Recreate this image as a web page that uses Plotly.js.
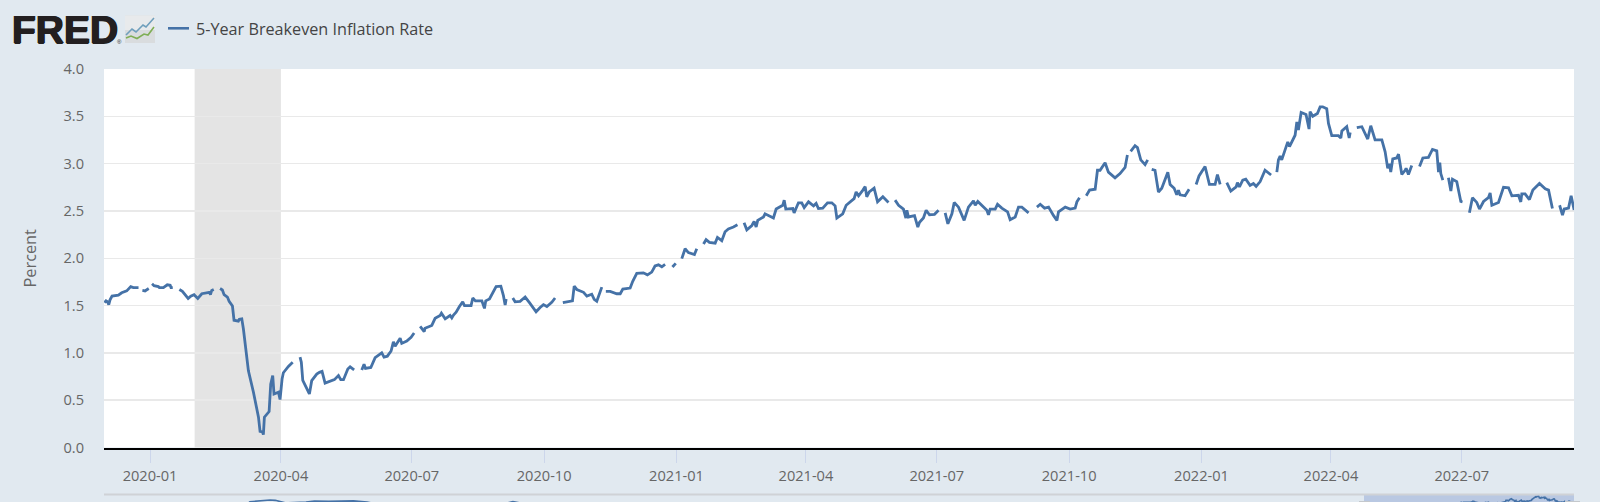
<!DOCTYPE html>
<html><head><meta charset="utf-8">
<script src="https://cdn.plot.ly/plotly-3.0.1.min.js"></script>
<style>html,body{margin:0;padding:0;background:#e1e9f0;overflow:hidden}#c{width:1600px;height:502px}</style>
</head><body><div id="c"></div>
<script>
const SERIES_NAME = "5-Year Breakeven Inflation Rate";
const Y_TITLE = "Percent";
const BASE_DATE = "2020-01-01";
const RANGE_START = -32, RANGE_END = 990;
const RECESSION = ["2020-02-01", "2020-04-01"];
const Y_TICKS = [0, 0.5, 1, 1.5, 2, 2.5, 3, 3.5, 4];

// Days since BASE_DATE and the rate read at that day; null marks a gap in the published series.
const days = [
-31.7,-30.6,-29.6,-28.7,-27.8,-26.4,-22,-19.7,-16.2,-13.4,-11.6,-8,-6.6,
-5.3,-3.5,-0.9,0.2,
1.4,2.8,5.8,6.5,9.3,12,14,14.6,15.8,18,
20.4,22.5,26.5,28.3,30.6,33.2,36,41.3,42,42.9,44.3,46.5,
48.7,50.3,51.5,53.8,55,57.3,58.4,61.4,62.1,63.8,64.9,66.5,68.4,71.9,75.4,76.5,78.1,78.8,79.5,82.8,83.9,85.3,86.2,89.3,90.4,91.8,92.7,96.2,99.2,101.5,
104.3,105.2,106.2,110.8,112.4,115.9,117.8,119.6,121.7,125.2,128.2,131,132.6,134.5,137.5,139.1,141.9,144.5,
147.2,148.8,149.8,153.5,156.5,161.1,162.7,165,167.6,169.2,170.4,173.9,175,178.5,181.5,183.6,185.7,
187.8,190.6,191.2,195.9,198.2,201.7,202.6,205.2,208.6,209.8,211,212.8,215.1,217.4,218.6,221.4,223.2,224.4,226.2,230.7,232.5,233.4,236,240.6,243.9,245.7,246.9,247.6,250,
252.2,253.8,257.3,260.8,263.8,268.4,271.2,273.5,275.9,279.3,281.6,284.3,
287,292,293.7,294.9,296.7,301.4,303.7,307.1,308.8,310.6,314.1,315.5,
316.9,319.9,324.5,326.9,328.7,333.8,335.6,338.4,343,345.8,348.8,351.1,353.5,355.8,358.1,360.6,
363.2,365.5,367.6,
369.7,372,374.3,378.5,380.1,382.4,
384.8,386.6,388.9,392.9,394.5,397.5,399.8,402.1,405.6,408.4,410.7,
413,414.9,418.4,420,421.4,422.5,426.5,427.6,433.4,435.3,439.9,440.9,442,446.9,447.8,450.8,453.1,454.8,457.8,461.3,463.1,464.7,467.7,471,474,476.3,477.5,481.6,484,486.8,489.5,490.9,492.6,495.6,497.2,498.3,500,503.4,505.8,509.5,513.4,515.7,
518,520.4,523.8,525.5,526.2,527.3,531.5,533.8,535,537.7,539.6,541.9,545.4,548.2,550.5,
552.8,554.7,557.5,559.1,562.1,566,569,572.5,573.7,575.5,581.8,582.9,584.1,587.6,589.2,592.2,596.2,598,601.5,603.8,606.1,610.8,613.7,
616.6,618.9,621.9,624.7,628.2,630.5,631.6,636.3,639.7,643.2,644.4,646.2,648.5,
650.9,653.2,657.1,658.7,660.5,664,666.3,670.9,674.4,677.9,679.5,680.6,
681.8,684.8,686.5,688.8,691.8,693.6,695,
696.4,698.7,701.1,703.4,707.6,709.2,712,713.8,715,716.1,719.6,722.4,724.8,
727.3,729.3,733.5,736.5,740.5,742.1,744,746.3,
748.6,751.4,755.1,756,757.4,759.7,761.8,764.8,767.1,769,771.8,775.2,779.4,781.4,
783.4,784.5,785.7,786.8,791,792.2,796.1,797.3,798.4,800.3,803.7,805.8,806.5,808.4,811.6,813.5,815.3,818.1,819.3,821.6,826.2,827.9,828.6,832,833.7,834.4,836.7,
839,842.5,846.6,848.7,851.7,856.4,858.7,860.5,861.7,862.6,864,866.8,868,870.3,872.6,873.3,874.9,877.2,879.9,
882.6,884.9,888.8,891.6,894.6,895.8,896.7,897.4,898.8,900.7,
902.7,904.4,905.5,908.5,911.3,912.5,914.9,
917.3,919.4,922.4,924.3,927.1,930.5,931.7,932.9,937.5,941,944.5,946.8,951.4,953,953.7,956,959,961.4,966,970,972.3,975,977.5,
980,982,983.2,986.2,988,990.1
];
const rates = [
1.53,1.55,1.54,1.51,1.56,1.60,1.61,1.635,1.655,1.70,1.69,1.69,null,
1.66,1.655,1.68,null,
1.73,1.71,1.70,1.69,1.69,1.72,1.715,1.69,1.69,null,
1.67,1.65,1.575,1.60,1.615,1.575,1.625,1.64,1.615,1.66,1.67,null,
1.68,1.665,1.615,1.59,1.545,1.495,1.345,1.335,1.355,1.36,1.255,1.04,0.81,0.584,0.32,0.17,0.165,0.136,0.32,0.38,0.67,0.76,0.566,0.584,0.507,0.724,0.79,0.857,0.90,null,
0.955,0.90,0.71,0.566,0.706,0.776,0.794,0.804,0.68,0.696,0.717,0.76,0.717,0.717,0.83,0.853,0.82,null,
0.82,0.88,0.835,0.846,0.95,1.0,0.955,0.965,1.02,1.117,1.07,1.155,1.10,1.125,1.165,1.21,null,
1.28,1.225,1.26,1.29,1.365,1.395,1.42,1.36,1.395,1.37,1.40,1.43,1.49,1.54,1.50,1.50,1.50,1.58,1.55,1.55,1.47,1.55,1.57,1.70,1.705,1.605,1.507,1.57,null,
1.58,1.54,1.545,1.59,1.53,1.435,1.48,1.51,1.49,1.535,1.58,null,
1.53,1.54,1.55,1.705,1.67,1.64,1.60,1.62,1.565,1.545,1.695,null,
1.65,1.65,1.625,1.625,1.675,1.685,1.757,1.84,1.846,1.825,1.854,1.918,1.93,1.91,1.936,null,
1.907,1.946,null,
1.996,2.10,2.06,2.04,2.10,null,
2.15,2.196,2.168,2.16,2.22,2.186,2.28,2.31,2.33,2.354,null,
2.375,2.30,2.346,2.39,2.33,2.40,2.436,2.47,2.425,2.52,2.56,2.614,2.52,2.525,2.48,2.586,2.586,2.536,2.596,2.554,2.58,2.525,2.53,2.586,2.586,2.554,2.425,2.47,2.56,2.596,2.63,2.70,2.66,2.72,2.757,2.65,2.70,2.74,2.596,2.65,2.59,null,
2.614,2.56,2.52,2.425,2.507,2.436,2.45,2.33,2.38,2.425,2.507,2.46,2.464,2.507,null,
2.48,2.364,2.47,2.59,2.54,2.40,2.54,2.607,2.56,2.60,2.507,2.46,2.52,2.52,2.57,2.53,2.49,2.407,2.436,2.54,2.54,2.48,null,
2.54,2.57,2.53,2.54,2.45,2.40,2.49,2.54,2.52,2.53,2.596,2.64,null,
2.66,2.72,2.73,2.93,2.93,3.01,2.91,2.85,2.895,2.96,3.09,null,
3.13,3.19,3.17,3.04,2.99,3.04,null,
2.94,2.93,2.70,2.74,2.91,2.78,2.74,2.67,2.72,2.67,2.66,2.73,null,
2.78,2.87,2.97,2.78,2.78,2.885,2.78,null,
2.80,2.71,2.755,2.80,2.755,2.825,2.835,2.77,2.79,2.76,2.81,2.93,2.88,null,
2.91,3.04,3.08,3.04,3.23,3.18,3.30,3.44,3.355,3.54,3.52,3.365,3.55,3.50,3.53,3.60,3.60,3.58,3.425,3.295,3.295,3.27,3.345,3.39,3.27,3.33,null,
3.38,3.39,3.26,3.40,3.25,3.25,3.125,2.95,3.00,2.91,3.05,3.06,3.10,2.885,2.93,2.95,2.885,2.98,null,
2.97,3.06,3.065,3.15,3.135,2.91,3.01,2.895,2.825,null,
2.85,2.71,2.835,2.81,2.60,2.595,null,
2.48,2.64,2.59,2.52,2.60,2.64,2.69,2.56,2.59,2.75,2.745,2.66,2.665,2.595,2.68,2.68,2.62,2.72,2.79,2.735,2.72,2.525,null,
2.56,2.455,2.52,2.53,2.66,2.51
];
// Earlier history, only the tops of which show at the edge of the navigator strip.
const historyDays = [-6170,-5460,-5454,-5415,-5380,-5356,-5330,-5300,-5280,-5181,-5140,-5070,-5000,-4950,-4884,-4850,-4200,-4174,-4140,-100];
const historyRates = [1.8,2.5,2.7,2.8,2.92,2.97,2.92,2.75,2.5,2.66,2.8,2.76,2.8,2.84,2.66,2.4,2.5,2.72,2.5,1.6];
const NAV_START_DAY = -6164;

const W = 1600, H = 502;
const LINE = "#4572a7", TEXT = "#666666", BG = "#e1e9f0";
const dayToDate = d => new Date(Date.parse(BASE_DATE + "T00:00:00Z") + d * 864e5).toISOString().slice(0, 16).replace("T", " ");
const px = v => v / W, py = v => 1 - v / H;
const path = pts => pts.map((p, i) => (i ? "L" : "M") + px(p[0]).toFixed(5) + "," + py(p[1]).toFixed(5)).join(" ");

const dates = days.map(dayToDate);
const navDates = historyDays.map(dayToDate).concat(dates);
const navRates = historyRates.concat(rates);

const main = {x: dates, y: rates, type: "scatter", mode: "lines", name: SERIES_NAME,
  line: {color: LINE, width: 2.8}, connectgaps: false, showlegend: false, hoverinfo: "x+y"};
const nav = {x: navDates, y: navRates, type: "scatter", mode: "lines", xaxis: "x2", yaxis: "y2",
  line: {color: LINE, width: 1.6}, connectgaps: true, showlegend: false, hoverinfo: "skip"};

const layout = {
  width: W, height: H, autosize: false,
  margin: {l: 0, r: 0, t: 0, b: 0},
  paper_bgcolor: BG, plot_bgcolor: "#ffffff",
  font: {family: "'Open Sans', sans-serif", color: TEXT, size: 14.6},
  xaxis: {domain: [px(104), px(1574)], range: [dayToDate(RANGE_START), dayToDate(RANGE_END)],
    type: "date", tick0: "2020-01-01", dtick: "M3", tickformat: "%Y-%m", ticklabelmode: "instant",
    ticks: "outside", ticklen: 13, tickwidth: 1, tickcolor: "#ccd6eb",
    showgrid: false, zeroline: false, showline: true, linecolor: "#000000", linewidth: 2.5,
    tickfont: {size: 14.6, color: TEXT}, anchor: "y"},
  yaxis: {domain: [py(447.5), py(69)], range: [0, 4], tickmode: "array", tickvals: Y_TICKS,
    ticktext: Y_TICKS.map(v => v.toFixed(1)), ticks: "", ticklabelstandoff: 19,
    gridcolor: "#e9e9e9", gridwidth: 1.5, zeroline: false, showline: false,
    tickfont: {size: 14.6, color: TEXT}, anchor: "x",
    title: {text: Y_TITLE, font: {size: 16.3, color: TEXT}, standoff: 22}},
  xaxis2: {domain: [px(104), px(1574)], range: [dayToDate(NAV_START_DAY), dayToDate(RANGE_END)],
    type: "date", visible: false, anchor: "y2"},
  yaxis2: {domain: [0, py(494)], range: [2.65, 3.95], visible: false, anchor: "x2"},
  shapes: [
    {type: "rect", xref: "x", yref: "paper", x0: RECESSION[0], x1: RECESSION[1], y0: py(447.5), y1: py(69),
      fillcolor: "#e4e4e4", line: {width: 0}, layer: "between"},
    {type: "rect", xref: "paper", yref: "paper", x0: px(104), x1: px(1574), y0: 0, y1: py(494),
      fillcolor: BG, line: {width: 0}, layer: "below"},
    {type: "rect", xref: "x2", yref: "paper", x0: dayToDate(RANGE_START), x1: dayToDate(RANGE_END), y0: 0, y1: py(494),
      fillcolor: "#b9c8e2", line: {width: 0}, layer: "below"},
    {type: "line", xref: "paper", yref: "paper", x0: px(104), x1: px(1574), y0: py(494.5), y1: py(494.5),
      line: {color: "#cfd2d6", width: 1.8}},
    {type: "rect", xref: "paper", yref: "paper", x0: px(1359), x1: px(1370), y0: 0, y1: py(501),
      fillcolor: "#c4c8cc", line: {width: 0}},
    {type: "rect", xref: "paper", yref: "paper", x0: px(1565), x1: px(1580), y0: 0, y1: py(501),
      fillcolor: "#c4c8cc", line: {width: 0}},
    // legend sample
    {type: "line", xref: "paper", yref: "paper", x0: px(168), x1: px(189), y0: py(28.3), y1: py(28.3),
      line: {color: LINE, width: 2.6}},
    // logo icon
    {type: "rect", xref: "paper", yref: "paper", x0: px(125), x1: px(155), y0: py(43), y1: py(15.5),
      fillcolor: "#d9dcde", line: {width: 0}},
    {type: "rect", xref: "paper", yref: "paper", x0: px(125), x1: px(155), y0: py(30), y1: py(15.5),
      fillcolor: "#e8eaec", line: {width: 0}},
    {type: "path", xref: "paper", yref: "paper", path: path([[126,35],[132,29],[136,32],[143,25],[146,27],[154,18]]),
      line: {color: "#6f9fbc", width: 1.6}},
    {type: "path", xref: "paper", yref: "paper", path: path([[126,38],[131,36],[137,38.5],[144,34],[148,35],[154,27]]),
      line: {color: "#7fae55", width: 1.6}}
  ],
  annotations: [
    {xref: "paper", yref: "paper", x: px(194), y: py(29), xanchor: "left", yanchor: "middle", showarrow: false,
      text: SERIES_NAME, font: {size: 16.2, color: "#444444"}},
    {xref: "paper", yref: "paper", x: px(9.5), y: py(29.5), xanchor: "left", yanchor: "middle", showarrow: false,
      text: "<b>FRED</b>", font: {family: "'Liberation Sans', Arial, sans-serif", size: 39, color: "#231f20",
        shadow: "0.7px 0 0 #231f20, -0.7px 0 0 #231f20, 0 0.5px 0 #231f20"}},
    {xref: "paper", yref: "paper", x: px(114.5), y: py(41.5), xanchor: "left", yanchor: "middle", showarrow: false,
      text: "®", font: {family: "'Liberation Sans', Arial, sans-serif", size: 6, color: "#231f20"}}
  ]
};
if (days.length !== rates.length) console.error("length mismatch", days.length, rates.length);
Plotly.newPlot("c", [main, nav], layout, {displayModeBar: false, responsive: false, staticPlot: true});
</script></body></html>
